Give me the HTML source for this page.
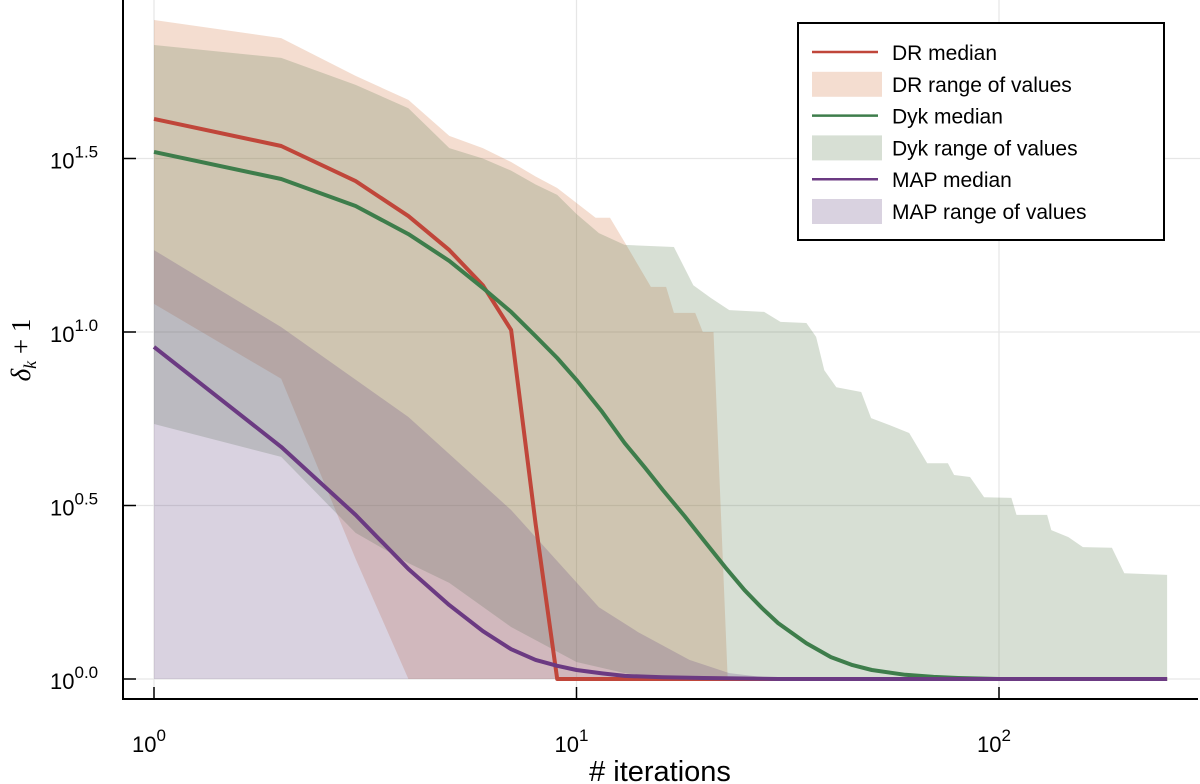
<!DOCTYPE html>
<html><head><meta charset="utf-8"><style>
body{margin:0;background:#fff;}
svg{display:block;font-family:"Liberation Sans","DejaVu Sans",sans-serif;}
</style></head><body>
<svg id="chart" width="1200" height="784" viewBox="0 0 1200 784" xmlns="http://www.w3.org/2000/svg">
<g id="grid"></g>
<g id="bands"></g>
<g id="lines"></g>
<g id="axes"></g>
<g id="legend"></g>
</svg>
<script>
// iterations (k) and log10(delta_k + 1) values
const drMedK = [1,2,3,4,5,6,7,8,9,250];
const drMedV = [1.614,1.536,1.435,1.334,1.236,1.135,1.006,0.447,0,0];
const dykMedK = [1,2,3,4,5,6,7,8,9,10,11.5,13,14.5,16,18,20,22.5,25,27.5,30,35,40,45,50,60,70,80,100,250];
const dykMedV = [1.519,1.441,1.363,1.282,1.205,1.127,1.058,0.988,0.925,0.862,0.770,0.680,0.610,0.545,0.470,0.400,0.322,0.256,0.204,0.161,0.103,0.063,0.040,0.026,0.012,0.006,0.003,0,0];
const mapMedK = [1,2,3,4,5,6,7,8,9,10,11.5,13,16,20,30,250];
const mapMedV = [0.957,0.669,0.473,0.317,0.213,0.138,0.086,0.055,0.038,0.026,0.016,0.009,0.005,0.003,0,0];

const drUpK = [1,2,3,4,5,6,7,8,9,11.1,12,13,15,16.3,17,19.1,19.9,21.1,22.8,250];
const drUpV = [1.899,1.847,1.738,1.669,1.565,1.530,1.490,1.448,1.415,1.329,1.329,1.259,1.130,1.130,1.055,1.055,1.0,1.0,0,0];
const drLoK = [1,2,3,4,250];
const drLoV = [1.081,0.865,0.346,0,0];

const dykUpK = [1,2,3,4,5,6,7,8,9,10,11.3,13,17,18.9,20.8,23,27.8,30.4,35,36.9,38.6,41.2,47.2,49.8,55,61.3,67.6,75.7,78.3,85.4,92.2,107,110,130,133,146,158,185,198,250];
const dykUpV = [1.827,1.790,1.712,1.645,1.530,1.500,1.465,1.425,1.395,1.340,1.285,1.251,1.245,1.135,1.098,1.063,1.058,1.029,1.026,0.986,0.890,0.841,0.827,0.752,0.732,0.709,0.622,0.622,0.588,0.582,0.524,0.522,0.473,0.473,0.429,0.409,0.380,0.378,0.305,0.300];
const dykLoK = [1,2,3,4,5,7,10,13,16,20,250];
const dykLoV = [0.735,0.640,0.421,0.334,0.277,0.150,0.049,0.017,0.003,0,0];

const mapUpK = [1,2,4,7,11.3,14,18.5,23,30,250];
const mapUpV = [1.236,1.014,0.755,0.487,0.207,0.135,0.055,0.017,0,0];
const mapLoK = [1,250];
const mapLoV = [0,0];

const xTicks = [1,10,100];
const xTickExp = ["0","1","2"];
const yTicks = [0,0.5,1.0,1.5];
const yTickExp = ["0.0","0.5","1.0","1.5"];

const NS="http://www.w3.org/2000/svg";
const X0=154, XD=422.5, Y0=679, YD=347;
function xs(k){return X0+XD*Math.log10(k);}
function ys(e){return Y0-YD*e;}
function mk(tag,attrs,parent){const el=document.createElementNS(NS,tag);for(const a in attrs)el.setAttribute(a,attrs[a]);parent.appendChild(el);return el;}

const grid=document.getElementById('grid');
xTicks.forEach(t=>{const l=mk('line',{x1:xs(t),x2:xs(t),y1:0,y2:699,stroke:'#e6e6e6','stroke-width':1.2},grid);

});
yTicks.forEach(t=>{const l=mk('line',{x1:123,x2:1200,y1:ys(t),y2:ys(t),stroke:'#e6e6e6','stroke-width':1.2},grid);

});

function bandPath(uk,uv,lk,lv){
  let d='';
  uk.forEach((k,i)=>{d+=(i?'L':'M')+xs(k).toFixed(1)+','+ys(uv[i]).toFixed(1);});
  for(let i=lk.length-1;i>=0;i--){d+='L'+xs(lk[i]).toFixed(1)+','+ys(lv[i]).toFixed(1);}
  return d+'Z';
}
const bands=document.getElementById('bands');
const b1=mk('path',{d:bandPath(drUpK,drUpV,drLoK,drLoV),fill:'rgb(211,119,67)','fill-opacity':0.25},bands);


const b2=mk('path',{d:bandPath(dykUpK,dykUpV,dykLoK,dykLoV),fill:'rgb(95,127,83)','fill-opacity':0.25},bands);


const b3=mk('path',{d:bandPath(mapUpK,mapUpV,mapLoK,mapLoV),fill:'rgb(103,75,131)','fill-opacity':0.25},bands);



function linePts(ks,vs){return ks.map((k,i)=>xs(k).toFixed(1)+','+ys(vs[i]).toFixed(1)).join(' ');}
const lines=document.getElementById('lines');
const l1=mk('polyline',{points:linePts(drMedK,drMedV),fill:'none',stroke:'#c0463a','stroke-width':4,'stroke-linejoin':'round'},lines);


const l2=mk('polyline',{points:linePts(dykMedK,dykMedV),fill:'none',stroke:'#3e7d4b','stroke-width':4,'stroke-linejoin':'round'},lines);


const l3=mk('polyline',{points:linePts(mapMedK,mapMedV),fill:'none',stroke:'#6b3a82','stroke-width':4,'stroke-linejoin':'round'},lines);



const axes=document.getElementById('axes');
const ya=mk('line',{x1:123,x2:123,y1:0,y2:700,stroke:'#000','stroke-width':2},axes);


const xa=mk('line',{x1:122,x2:1198,y1:699,y2:699,stroke:'#000','stroke-width':2},axes);


xTicks.forEach((t,i)=>{
  const tk=mk('line',{x1:xs(t),x2:xs(t),y1:699,y2:687,stroke:'#000','stroke-width':1.5},axes);
  
  
  const tx=mk('text',{x:xs(t)-22,y:752,'font-size':22,fill:'#000'},axes);
  
  
  tx.innerHTML='10<tspan dy="-11" font-size="17">'+xTickExp[i]+'</tspan>';
});
yTicks.forEach((t,i)=>{
  const tk=mk('line',{x1:123,x2:136,y1:ys(t),y2:ys(t),stroke:'#000','stroke-width':1.5},axes);
  
  
  const tx=mk('text',{x:50,y:ys(t)+10,'font-size':22,fill:'#000'},axes);
  
  
  tx.innerHTML='10<tspan dy="-11" font-size="17">'+yTickExp[i]+'</tspan>';
});
const xt=mk('text',{x:660,y:781,'font-size':29,'text-anchor':'middle',fill:'#000'},axes);


xt.textContent='# iterations';
const yt=mk('text',{x:0,y:0,'font-size':27,'text-anchor':'middle',fill:'#000','font-family':'Liberation Serif, serif','font-style':'italic',transform:'translate(30,350) rotate(-90)'},axes);


yt.innerHTML='δ<tspan dy="6" font-size="18">k</tspan><tspan dy="-6" font-style="normal"> + 1</tspan>';

const legNames=['DR median','DR range of values','Dyk median','Dyk range of values','MAP median','MAP range of values'];
const legColors=['#c0463a','rgb(211,119,67)','#3e7d4b','rgb(95,127,83)','#6b3a82','rgb(103,75,131)'];
const lg=document.getElementById('legend');
const box=mk('rect',{x:798,y:23,width:366,height:217,fill:'#fff',stroke:'#000','stroke-width':2},lg);


legNames.forEach((n,i)=>{
  const y=52+i*31.8;
  let s;
  if(i%2===0){s=mk('line',{x1:812,x2:878,y1:y,y2:y,stroke:legColors[i],'stroke-width':2.5},lg);}
  else{s=mk('rect',{x:812,y:y-12,width:70,height:25,fill:legColors[i],'fill-opacity':0.25},lg);}
  
  
  const t=mk('text',{x:892,y:y+8,'font-size':21,fill:'#000'},lg);
  
  
  t.textContent=n;
});
</script>
</body></html>
